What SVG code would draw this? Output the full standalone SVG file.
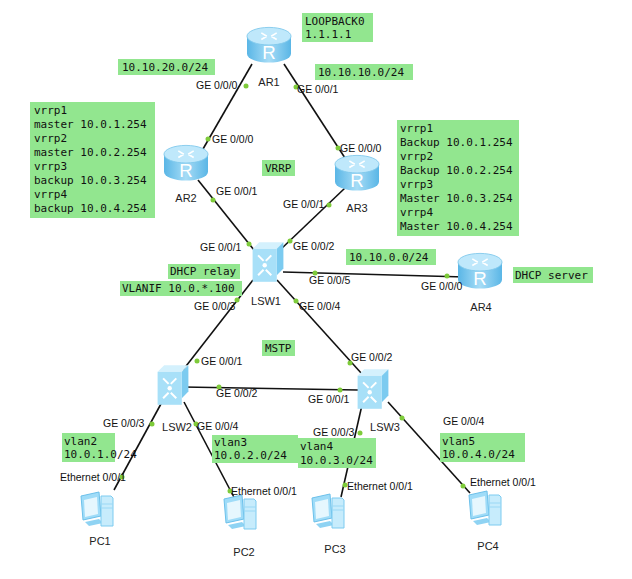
<svg xmlns="http://www.w3.org/2000/svg" width="632" height="579" viewBox="0 0 632 579">
<style>
.lb{fill:#92e68f}
.mt{font-family:"DejaVu Sans Mono","Liberation Mono",monospace;font-size:11px;fill:#111}
.pt{font-family:"Liberation Sans",Arial,sans-serif;font-size:10.5px;fill:#111}
.nm{font-family:"Liberation Sans",Arial,sans-serif;font-size:11px;fill:#222;text-anchor:middle}
.ln{stroke:#111;stroke-width:1.6;fill:none}
.dt{fill:#7ecb3a}
</style>
<defs>
<linearGradient id="rg" x1="0" y1="0" x2="1" y2="0"><stop offset="0" stop-color="#5ab6e6"/><stop offset="0.5" stop-color="#a6dcf6"/><stop offset="1" stop-color="#5ab6e6"/></linearGradient>
<g id="router0">
<path d="M-20,-8 v16 a20,8 0 0 0 40,0 v-16 z" fill="url(#rg)"/>
<ellipse cx="0" cy="-8" rx="20" ry="8" fill="#bfe8fb" stroke="#7fc8ec" stroke-width="0.8"/>
<path d="M-7,-11 l5,3 M7,-11 l-5,3 M-7,-5 l5,-3 M7,-5 l-5,-3" stroke="#fff" stroke-width="1.5"/>
<text x="0" y="13" font-family="Liberation Sans,Arial,sans-serif" font-size="17" fill="#fff" text-anchor="middle">R</text>
</g>
<g id="router"><use href="#router0" transform="scale(1.1)"/></g>
<g id="switch0">
<path d="M-14,-12 l6,-6 h22 l-6,6 z" fill="#d4f1fd"/>
<path d="M8,-12 l6,-6 v24 l-6,6 z" fill="#7ccbf0"/>
<rect x="-14" y="-12" width="22" height="30" fill="#a8e0f8"/>
<g stroke="#fff" stroke-width="1.8"><path d="M-9,-6 l5,5 M3,-6 l-5,5 M-9,12 l5,-5 M3,12 l-5,-5"/></g>
<circle cx="-3" cy="3" r="2" fill="#fff"/>
</g>
<g id="switch"><use href="#switch0" transform="scale(1.1)"/></g>
<g id="pc">
<path d="M-16,-22 l18,-4 l2,24 l-18,4 z" fill="#9fdcf8" stroke="#6cc0ea" stroke-width="1"/>
<path d="M-13,-18 l13,-3 l1,17 l-13,3 z" fill="#e6f7fe"/>
<path d="M-12,4 l14,-3 l4,4 l-14,3 z" fill="#8fd3f3"/>
<path d="M4,-22 h10 l2,2 v28 h-12 z" fill="#c7ecfc" stroke="#7ccbf0" stroke-width="1"/>
<path d="M4,-14 h12 M4,-10 h12" stroke="#9ad8f5" stroke-width="1"/>
</g>
</defs>
<rect width="632" height="579" fill="#fff"/>
<g id="connectors">
<path class="ln" d="M252,64 L203,149"/>
<path class="ln" d="M284,64 L345,158"/>
<path class="ln" d="M198,180 L254,250"/>
<path class="ln" d="M345,188 L280,250"/>
<path class="ln" d="M283,272 L465,277"/>
<path class="ln" d="M253,280 L183,370"/>
<path class="ln" d="M277,280 L362,374"/>
<path class="ln" d="M183,387 L358,390"/>
<path class="ln" d="M162,402 L114,490"/>
<path class="ln" d="M184,402 L237,503"/>
<path class="ln" d="M362,405 L341,497"/>
<path class="ln" d="M388,402 L470,493"/>
<g class="dt">
<circle cx="246" cy="86" r="2.5"/><circle cx="208" cy="139" r="2.5"/>
<circle cx="296" cy="87" r="2.5"/><circle cx="338" cy="148" r="2.5"/>
<circle cx="213" cy="200" r="2.5"/><circle cx="249" cy="244" r="2.5"/>
<circle cx="329" cy="205" r="2.5"/><circle cx="290" cy="241" r="2.5"/>
<circle cx="315" cy="273" r="2.5"/><circle cx="447" cy="276" r="2.5"/>
<circle cx="237" cy="300" r="2.5"/><circle cx="197" cy="361" r="2.5"/>
<circle cx="296" cy="301" r="2.5"/><circle cx="350" cy="363" r="2.5"/>
<circle cx="219" cy="387" r="2.5"/><circle cx="340" cy="390" r="2.5"/>
<circle cx="152" cy="424" r="2.5"/><circle cx="122" cy="477" r="2.5"/>
<circle cx="196" cy="424" r="2.5"/><circle cx="230" cy="491" r="2.5"/>
<circle cx="360" cy="433" r="2.5"/><circle cx="345" cy="485" r="2.5"/>
<circle cx="402" cy="418" r="2.5"/><circle cx="463" cy="486" r="2.5"/>
</g>
</g>
<g id="AR1"><use href="#router" x="269" y="45"/><text class="nm" x="269" y="86">AR1</text></g>
<g id="AR2"><use href="#router" x="186" y="163"/><text class="nm" x="186" y="202">AR2</text></g>
<g id="AR3"><use href="#router" x="357" y="173"/><text class="nm" x="357" y="212">AR3</text></g>
<g id="AR4"><use href="#router" x="480" y="271"/><text class="nm" x="481" y="311">AR4</text></g>
<g id="LSW1"><use href="#switch" x="268" y="262"/><text class="nm" x="266" y="305">LSW1</text></g>
<g id="LSW2"><use href="#switch" x="173" y="385"/><text class="nm" x="177" y="431">LSW2</text></g>
<g id="LSW3"><use href="#switch" x="373" y="389"/><text class="nm" x="385" y="431">LSW3</text></g>
<g id="PC1"><use href="#pc" x="97" y="518"/><text class="nm" x="100" y="545">PC1</text></g>
<g id="PC2"><use href="#pc" x="240" y="521"/><text class="nm" x="244" y="556">PC2</text></g>
<g id="PC3"><use href="#pc" x="328" y="520"/><text class="nm" x="335" y="553">PC3</text></g>
<g id="PC4"><use href="#pc" x="485" y="517"/><text class="nm" x="488" y="550">PC4</text></g>
<g id="ports">
<text class="pt" x="196" y="89">GE 0/0/0</text>
<text class="pt" x="297" y="93">GE 0/0/1</text>
<text class="pt" x="212" y="143">GE 0/0/0</text>
<text class="pt" x="340" y="152">GE 0/0/0</text>
<text class="pt" x="216" y="195">GE 0/0/1</text>
<text class="pt" x="283" y="208">GE 0/0/1</text>
<text class="pt" x="200" y="251">GE 0/0/1</text>
<text class="pt" x="293" y="250">GE 0/0/2</text>
<text class="pt" x="309" y="284">GE 0/0/5</text>
<text class="pt" x="421" y="290">GE 0/0/0</text>
<text class="pt" x="194" y="310">GE 0/0/3</text>
<text class="pt" x="299" y="310">GE 0/0/4</text>
<text class="pt" x="201" y="365">GE 0/0/1</text>
<text class="pt" x="351" y="361">GE 0/0/2</text>
<text class="pt" x="216" y="397">GE 0/0/2</text>
<text class="pt" x="308" y="403">GE 0/0/1</text>
<text class="pt" x="103" y="427">GE 0/0/3</text>
<text class="pt" x="197" y="430">GE 0/0/4</text>
<text class="pt" x="313" y="436">GE 0/0/3</text>
<text class="pt" x="443" y="425">GE 0/0/4</text>
<text class="pt" x="60" y="481" font-size="9.5">Ethernet 0/0/1</text>
<text class="pt" x="231" y="495" font-size="9.5">Ethernet 0/0/1</text>
<text class="pt" x="347" y="490" font-size="9.5">Ethernet 0/0/1</text>
<text class="pt" x="470" y="486" font-size="9.5">Ethernet 0/0/1</text>
</g>
<g id="labels">
<rect class="lb" x="302" y="13" width="71" height="29"/><text class="mt" x="305" y="25">LOOPBACK0</text><text class="mt" x="305" y="38">1.1.1.1</text>
<rect class="lb" x="118" y="59" width="97" height="16"/><text class="mt" x="122" y="71">10.10.20.0/24</text>
<rect class="lb" x="315" y="64" width="98" height="16"/><text class="mt" x="318" y="76">10.10.10.0/24</text>
<rect class="lb" x="30" y="102" width="125" height="116"/>
<text class="mt" x="34" y="114">vrrp1</text><text class="mt" x="34" y="128">master 10.0.1.254</text><text class="mt" x="34" y="142">vrrp2</text><text class="mt" x="34" y="156">master 10.0.2.254</text><text class="mt" x="34" y="170">vrrp3</text><text class="mt" x="34" y="184">backup 10.0.3.254</text><text class="mt" x="34" y="198">vrrp4</text><text class="mt" x="34" y="212">backup 10.0.4.254</text>
<rect class="lb" x="397" y="120" width="122" height="116"/>
<text class="mt" x="400" y="132">vrrp1</text><text class="mt" x="400" y="146">Backup 10.0.1.254</text><text class="mt" x="400" y="160">vrrp2</text><text class="mt" x="400" y="174">Backup 10.0.2.254</text><text class="mt" x="400" y="188">vrrp3</text><text class="mt" x="400" y="202">Master 10.0.3.254</text><text class="mt" x="400" y="216">vrrp4</text><text class="mt" x="400" y="230">Master 10.0.4.254</text>
<rect class="lb" x="262" y="160" width="33" height="16"/><text class="mt" x="265" y="172">VRRP</text>
<rect class="lb" x="346" y="249" width="90" height="16"/><text class="mt" x="349" y="261">10.10.0.0/24</text>
<rect class="lb" x="168" y="264" width="72" height="15"/><text class="mt" x="170" y="275">DHCP relay</text>
<rect class="lb" x="120" y="281" width="122" height="15"/><text class="mt" x="122" y="292">VLANIF 10.0.*.100</text>
<rect class="lb" x="513" y="267" width="80" height="16"/><text class="mt" x="515" y="279">DHCP server</text>
<rect class="lb" x="262" y="340" width="33" height="16"/><text class="mt" x="265" y="352">MSTP</text>
<rect class="lb" x="62" y="433" width="53" height="29"/><text class="mt" x="64" y="445">vlan2</text><text class="mt" x="64" y="458">10.0.1.0/24</text>
<rect class="lb" x="212" y="435" width="86" height="28"/><text class="mt" x="214" y="446">vlan3</text><text class="mt" x="214" y="459">10.0.2.0/24</text>
<rect class="lb" x="298" y="438" width="78" height="30"/><text class="mt" x="300" y="450">vlan4</text><text class="mt" x="300" y="464">10.0.3.0/24</text>
<rect class="lb" x="440" y="433" width="85" height="29"/><text class="mt" x="442" y="445">vlan5</text><text class="mt" x="442" y="458">10.0.4.0/24</text>
</g>
</svg>
